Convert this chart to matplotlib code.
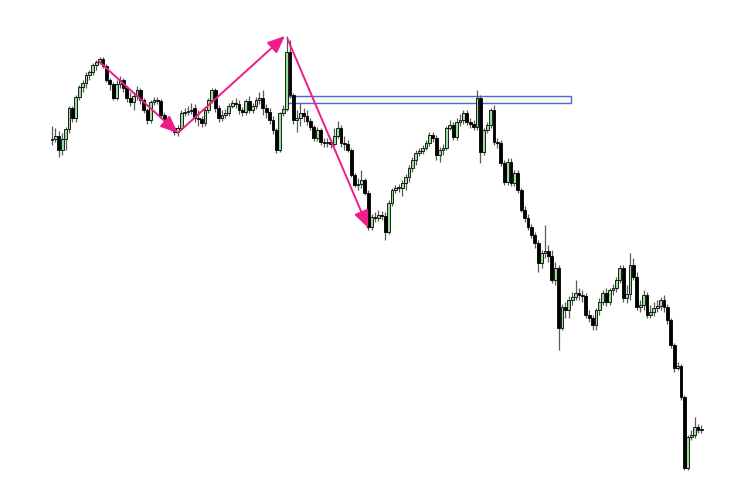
import matplotlib
matplotlib.use("Agg")
import matplotlib.pyplot as plt
from matplotlib.patches import Rectangle
import numpy as np

# ---- data (price points) ----
opens = [360,361,364,350,361,371,392,382,403,413,417,425,428,435,438,
         441,434,420,416,402,416,420,412,402,398,404,410,400,390,380,398,400,399,385,380,374,372,368,
         372,387,388,389,392,382,381,377,390,400,410,392,382,385,387,394,397,396,390,388,399,390,394,400,402,392,388,380,370,350,387,391,
         448,405,380,382,387,384,379,373,362,370,358,357,358,356,364,372,357,356,350,325,315,316,320,307,273,283,282,285,284,268,
         297,310,312,312,317,323,332,340,347,349,352,357,365,362,345,350,352,372,375,363,378,380,387,378,376,373,402,348,370,375,390,358,357,337,318,338,317,327,310,290,282,273,265,257,237,247,249,244,220,232,
         172,193,190,200,203,207,205,204,185,182,175,190,198,207,198,210,212,220,232,202,206,235,223,193,195,205,185,188,192,194,200,193,180,155,132,134,103,32,63,65,73,70]
closes = [361,364,350,361,371,392,382,403,413,417,425,428,435,438,441,
          434,420,416,402,416,420,412,402,398,404,410,400,390,380,398,400,399,385,380,374,372,368,372,
          387,388,389,390,382,381,377,390,400,410,392,382,385,387,394,397,396,390,388,399,390,394,400,402,392,388,380,370,350,387,391,448,
          405,380,382,387,384,379,373,362,370,358,357,358,356,364,372,357,356,350,325,315,316,320,307,273,283,282,285,284,268,297,
          310,312,312,317,323,332,340,347,349,352,357,365,362,345,350,352,372,375,363,378,380,387,378,376,373,402,348,370,375,390,358,357,337,318,338,317,327,310,290,282,273,265,257,237,247,249,244,220,232,172,
          193,190,200,203,207,205,204,185,182,175,190,198,207,198,210,212,220,232,202,206,235,223,193,195,205,185,188,192,194,200,193,180,155,132,134,103,32,63,65,73,70,71]
highs = [374,372,369,367,373,394,394,405,415,420,428,430,437,440,443,
         443,436,422,418,420,424,422,414,408,408,414,412,402,392,400,403,403,401,388,382,378,374,375,
         390,392,394,397,396,390,384,392,402,412,412,395,390,391,397,400,402,400,393,401,404,397,403,408,410,396,392,384,372,388,395,464,
         460,407,390,397,392,390,382,375,373,372,362,362,361,372,379,375,364,360,352,327,322,330,322,310,286,288,290,289,288,300,
         312,315,316,320,326,335,343,350,352,355,360,368,368,365,353,356,374,380,378,382,386,390,390,382,380,410,405,372,378,392,395,362,360,340,342,342,330,330,312,294,286,276,268,260,250,275,255,250,238,235,
         196,198,204,208,220,212,210,207,190,185,192,202,210,212,212,216,223,235,235,215,247,242,228,200,210,208,195,198,200,203,205,196,182,157,138,136,105,65,70,83,76,75]
lows = [355,358,343,345,350,367,378,378,400,408,412,420,425,430,436,
        432,418,410,400,400,412,408,398,394,390,400,396,387,376,377,395,396,382,376,372,369,365,364,
        370,384,385,386,378,374,373,374,387,397,388,378,379,382,384,392,392,386,384,385,387,387,391,396,385,382,376,366,347,348,384,389,
        402,376,368,374,378,375,370,359,359,355,353,353,352,354,362,353,350,348,323,313,310,312,305,270,270,278,279,280,260,266,
        294,307,308,304,310,318,328,335,344,346,350,354,358,340,338,345,350,370,360,360,374,376,375,372,370,370,337,345,367,372,355,352,334,315,315,314,314,307,288,278,270,262,252,228,232,242,238,217,215,150,
        170,182,182,195,200,200,198,182,178,170,170,185,195,194,195,205,208,217,198,197,200,220,190,188,190,182,182,184,188,190,188,176,152,128,130,100,30,30,60,62,67,67]

# swing points joined by the arrows (candle index, price)
swing_idx = [14, 37, 68.5, 93]
swing_px = [438, 367, 464, 272]

# resistance zone
zone_start, zone_end = 69, 152.6
zone_low, zone_high = 397, 404

# ---- figure ----
fig = plt.figure(figsize=(7.48, 4.94), dpi=100)
ax = fig.add_axes([0, 0, 1, 1])
ax.set_axis_off()

n = len(opens)
x = np.arange(n)
o = np.array(opens, float); c = np.array(closes, float)
h = np.array(highs, float); l = np.array(lows, float)

spacing = 3.4  # pixels per candle
x0 = 52
ax.set_xlim(-x0 / spacing, (748 - x0) / spacing)
ax.set_ylim(6, 500)

ax.vlines(x, l, h, color="#5a5a5a", linewidth=0.9, zorder=2)
bull = c >= o
bottoms = np.minimum(o, c)
heights = np.maximum(np.abs(c - o), 0.8)
ax.bar(x[bull], heights[bull], bottom=bottoms[bull], width=0.85,
       color="#98e098", edgecolor="black", linewidth=0.6, zorder=3)
ax.bar(x[~bull], heights[~bull], bottom=bottoms[~bull], width=0.85,
       color="black", edgecolor="black", linewidth=0.6, zorder=3)

ax.add_patch(Rectangle((zone_start, zone_low), zone_end - zone_start, zone_high - zone_low,
                       facecolor="#f5fcec", edgecolor="#4f63e0", linewidth=1.0, zorder=1))

pink = "#ee1d8a"
segments = [((swing_idx[0], swing_px[0]), (swing_idx[1], swing_px[1])),
            ((swing_idx[1], swing_px[1]), (swing_idx[2], swing_px[2])),
            ((swing_idx[2] + 0.8, swing_px[2] - 3), (swing_idx[3], swing_px[3]))]
for start, end in segments:
    ax.annotate("", xy=end, xytext=start,
                arrowprops=dict(arrowstyle="-|>,head_length=0.75,head_width=0.32",
                                color=pink, lw=1.4, mutation_scale=14,
                                shrinkA=0, shrinkB=0),
                zorder=5)

fig.savefig("out.png", dpi=100)
